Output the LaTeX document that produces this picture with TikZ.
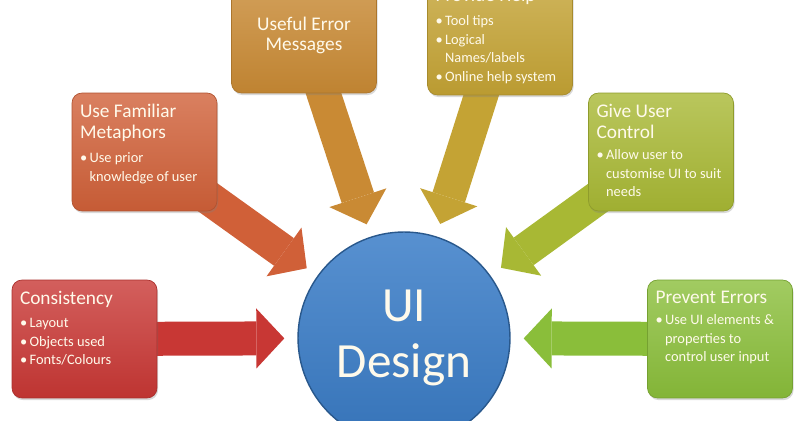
\documentclass[tikz,border=0pt]{standalone}
\usepackage{fontspec}
\setmainfont{Carlito}
\usetikzlibrary{arrows.meta,shadows,backgrounds}

\definecolor{consred}{RGB}{200,55,52}
\definecolor{metaorange}{RGB}{208,96,56}
\definecolor{errtan}{RGB}{201,138,52}
\definecolor{helpgold}{RGB}{196,163,52}
\definecolor{ctrlolive}{RGB}{168,184,52}
\definecolor{prevgreen}{RGB}{138,190,58}
\definecolor{uiblue}{RGB}{58,125,200}
\definecolor{cardtext}{RGB}{255,250,235}

\tikzset{
  card/.style={rounded corners=0.2cm, minimum width=2.9cm, minimum height=2.36cm,
    top color=#1!80!white, bottom color=#1!95!black, draw=#1!85!black, line width=0.4pt,
    drop shadow={opacity=0.3, shadow xshift=0.6pt, shadow yshift=-1.2pt}},
  cardtitle/.style={anchor=north west, inner sep=0pt, align=left, text=cardtext,
    font=\fontsize{11}{11.9}\selectfont},
  cardlist/.style={anchor=north west, inner sep=0pt, align=left, text=cardtext,
    font=\fontsize{8.2}{10.5}\selectfont},
  fatarrow/.style={draw=#1, line width=0.68cm, shorten >=0.26cm, shorten <=-0.4cm,
    -{Triangle[width=1.2cm, length=0.56cm, line width=0pt]}},
}
\newcommand{\hang}{\phantom{\textbullet\,}}

\begin{document}
\begin{tikzpicture}[x=0.02cm, y=-0.02cm]
  \useasboundingbox (0,0) rectangle (800,421);
  \clip (0,0) rectangle (800,421);

  % centre
  \node[circle, minimum size=4.24cm, inner sep=0pt, top color=uiblue!85!white,
    bottom color=uiblue!92!black, draw=uiblue!70!black, line width=0.8pt,
    text=cardtext, align=center, font=\fontsize{28}{32.3}\selectfont]
    (ui) at (404,338) {UI\\Design};

  % boxes
  \node[card=consred] (cons) at (84.5,339) {};
  \node[card=metaorange] (meta) at (144.5,152) {};
  \node[card=errtan] (errmsg) at (304,34) {};
  \node[card=helpgold] (help) at (500,36) {};
  \node[card=ctrlolive] (ctrl) at (661,152) {};
  \node[card=prevgreen] (prev) at (720,339) {};

  % texts
  \node[cardtitle] (cons-title) at ([xshift=0.16cm,yshift=-0.22cm]cons.north west) {Consistency};
  \node[cardlist] (cons-list) at ([yshift=-0.21cm]cons-title.south west)
    {\textbullet\,Layout\\\textbullet\,Objects used\\\textbullet\,Fonts/Colours};

  \node[cardtitle] (meta-title) at ([xshift=0.16cm,yshift=-0.22cm]meta.north west) {Use Familiar\\Metaphors};
  \node[cardlist] (meta-list) at ([yshift=-0.21cm]meta-title.south west)
    {\textbullet\,Use prior\\\hang knowledge of user};

  \node[align=center, inner sep=0pt, text=cardtext, font=\fontsize{11}{11.9}\selectfont]
    (err-title) at ([yshift=-0.03cm]errmsg.center) {Useful Error\\Messages};

  \node[cardtitle] (help-title) at ([xshift=0.16cm,yshift=-0.22cm]help.north west) {Provide Help};
  \node[cardlist] (help-list) at ([yshift=-0.21cm]help-title.south west)
    {\textbullet\,Tool tips\\\textbullet\,Logical\\\hang Names/labels\\\textbullet\,Online help system};

  \node[cardtitle] (ctrl-title) at ([xshift=0.16cm,yshift=-0.22cm]ctrl.north west) {Give User\\Control};
  \node[cardlist] (ctrl-list) at ([yshift=-0.21cm]ctrl-title.south west)
    {\textbullet\,Allow user to\\\hang customise UI to suit\\\hang needs};

  \node[cardtitle] (prev-title) at ([xshift=0.16cm,yshift=-0.22cm]prev.north west) {Prevent Errors};
  \node[cardlist] (prev-list) at ([yshift=-0.21cm]prev-title.south west)
    {\textbullet\,Use UI elements \&\\\hang properties to\\\hang control user input};

  % arrows
  \begin{pgfonlayer}{background}
    \draw[fatarrow=consred] (cons) -- (ui);
    \draw[fatarrow=metaorange] (meta) -- (ui);
    \draw[fatarrow=errtan] (errmsg) -- (ui);
    \draw[fatarrow=helpgold] (help) -- (ui);
    \draw[fatarrow=ctrlolive] (ctrl) -- (ui);
    \draw[fatarrow=prevgreen] (prev) -- (ui);
  \end{pgfonlayer}
\end{tikzpicture}
\end{document}
